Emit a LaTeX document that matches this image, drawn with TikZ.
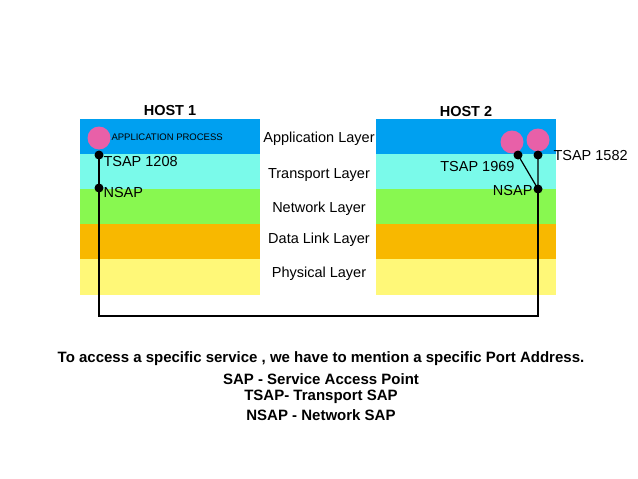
\documentclass[tikz,border=0pt]{standalone}
\usepackage{fontspec}
\setmainfont{Liberation Sans}
\begin{document}
\begin{tikzpicture}[x=1pt,y=-1pt,
  lay/.style={font=\fontsize{14.5}{16}\selectfont},
  dot/.style={circle,fill=black,inner sep=0,minimum size=9pt},
  bt/.style={font=\fontsize{14.5}{17}\selectfont\bfseries},
  bb/.style={font=\fontsize{15}{17}\selectfont\bfseries}]
\useasboundingbox (0,0) rectangle (638,479);
\definecolor{cA}{HTML}{00A0F0}\definecolor{cT}{HTML}{7AFAEA}
\definecolor{cN}{HTML}{88F850}\definecolor{cD}{HTML}{F8B800}
\definecolor{cP}{HTML}{FFF878}\definecolor{pk}{HTML}{E860A8}
\tikzset{proc/.style={circle,fill=pk,inner sep=0,minimum size=23pt}}
\foreach \x in {80,376}{
  \fill[cA] (\x,119) rectangle ++(180,35);
  \fill[cT] (\x,154) rectangle ++(180,35);
  \fill[cN] (\x,189) rectangle ++(180,35);
  \fill[cD] (\x,224) rectangle ++(180,35);
  \fill[cP] (\x,259) rectangle ++(180,36);
}
\node[bt] (h1) at (170,111) {HOST 1};
\node[bt] (h2) at (466,112) {HOST 2};
\node[lay] (la) at (319,139) {Application Layer};
\node[lay] (lt) at (319,175) {Transport Layer};
\node[lay] (ln) at (319,209) {Network Layer};
\node[lay] (ld) at (319,240) {Data Link Layer};
\node[lay] (lp) at (319,274) {Physical Layer};
\node[proc] (p1) at (99,138) {};
\node[font=\fontsize{9.5}{10}\selectfont,anchor=west] (ap) at (108,137) {APPLICATION PROCESS};
\node[dot] (t1) at (99,155) {};
\node[dot] (n1) at (99,188) {};
\node[lay,anchor=west] (tl1) at (100,162) {TSAP 1208};
\node[lay,anchor=west] (nl1) at (100,193) {NSAP};
\node[proc] (p2) at (512,142) {};
\node[proc] (p3) at (538,140) {};
\node[dot] (t2) at (518,155) {};
\node[dot] (t3) at (538,155) {};
\node[dot] (n2) at (538,189) {};
\node[lay,anchor=east] (tl2) at (518,167) {TSAP 1969};
\node[lay,anchor=west] (tl3) at (550,156) {TSAP 1582};
\node[lay,anchor=east] (nl2) at (536,191) {NSAP};
\coordinate (c1) at (99,316);
\coordinate (c2) at (538,316);
\draw[line width=1.2pt] (t1.center) -- (n1.center) -- (c1) -- (c2) -- (n2.center);
\draw[line width=1.2pt] (t2.center) -- (n2.center) -- (t3.center);
\node[bb] (s1) at (321,359) {To access a specific service , we have to mention a specific Port Address.};
\node[bb] (s2) at (321,379) {SAP - Service Access Point};
\node[bb] (s3) at (321,397) {TSAP- Transport SAP};
\node[bb] (s4) at (321,415) {NSAP - Network SAP};
\end{tikzpicture}
\end{document}
